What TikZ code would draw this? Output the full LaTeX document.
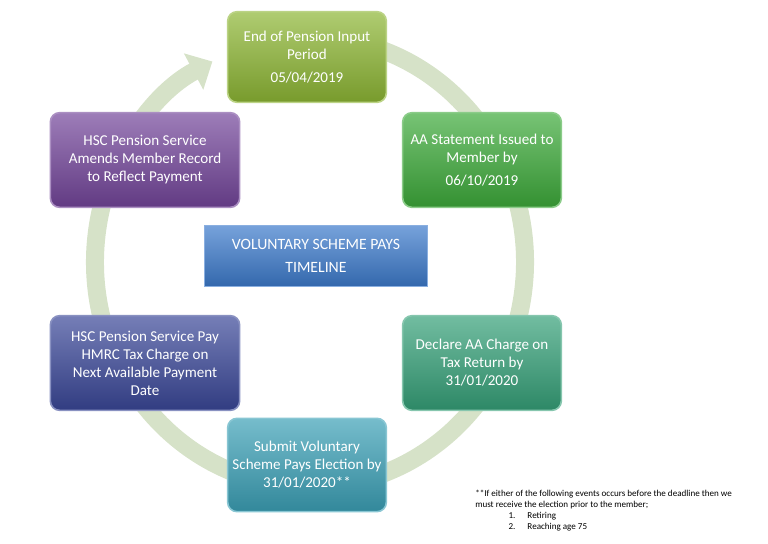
\documentclass[tikz,border=0pt]{standalone}
\usepackage{fontspec}
\setmainfont{Carlito}
\usetikzlibrary{arrows.meta}
\definecolor{ringgreen}{HTML}{D6E2C8}
\definecolor{cTop}{HTML}{8DB634}
\definecolor{cRUp}{HTML}{3DAA3A}
\definecolor{cRLo}{HTML}{35A078}
\definecolor{cBot}{HTML}{3BA0B6}
\definecolor{cLLo}{HTML}{3A4798}
\definecolor{cLUp}{HTML}{73459A}
\definecolor{cMid}{HTML}{3C7ACB}
\tikzset{
  stage/.style={draw=#1!60!white, line width=1.2pt, rounded corners=7pt,
    top color=#1!70!white, bottom color=#1!85!black, text=white,
    align=center, font=\fontsize{11.3}{13.5}\selectfont, inner sep=0pt},
}
\begin{document}
\begin{tikzpicture}[x=0.75pt,y=-0.75pt]
  \useasboundingbox (0,0) rectangle (768,543);
  % ring
  \draw[ringgreen, line width=13.5pt, -{Triangle[width=30pt,length=16pt]}]
    (310,262) ++(-80:215 and 225) arc[start angle=-80, end angle=243, x radius=215, y radius=225];
  % stages
  \node[stage=cTop, minimum width=119pt, minimum height=68pt] (pip) at (307,57)
    {End of Pension Input\\Period\\[4pt]05/04/2019};
  \node[stage=cRUp, minimum width=119pt, minimum height=71pt] (aas) at (482,160)
    {AA Statement Issued to\\Member by\\[4pt]06/10/2019};
  \node[stage=cRLo, minimum width=119pt, minimum height=71pt] (dec) at (482,363)
    {Declare AA Charge on\\Tax Return by\\31/01/2020};
  \node[stage=cBot, minimum width=119pt, minimum height=70pt] (sub) at (307,465)
    {Submit Voluntary\\Scheme Pays Election by\\31/01/2020**};
  \node[stage=cLLo, minimum width=142pt, minimum height=71pt] (pay) at (145,363)
    {HSC Pension Service Pay\\HMRC Tax Charge on\\Next Available Payment\\Date};
  \node[stage=cLUp, minimum width=142pt, minimum height=71pt] (amd) at (145,160)
    {HSC Pension Service\\Amends Member Record\\to Reflect Payment};
  \node[stage=cMid, rounded corners=0pt, minimum width=167pt, minimum height=46pt,
    font=\fontsize{11.8}{14}\selectfont] (ttl) at (316,256)
    {VOLUNTARY SCHEME PAYS\\[3pt]TIMELINE};
  % footnote
  \node[anchor=north west, align=left, inner sep=0pt, font=\fontsize{6.8}{8.3}\selectfont] (fn) at (475,490)
    {**If either of the following events occurs before the deadline then we\\
     must receive the election prior to the member;\\
     \hspace*{25pt}1.\hspace{9pt}Retiring\\
     \hspace*{25pt}2.\hspace{9pt}Reaching age 75};
\end{tikzpicture}
\end{document}
